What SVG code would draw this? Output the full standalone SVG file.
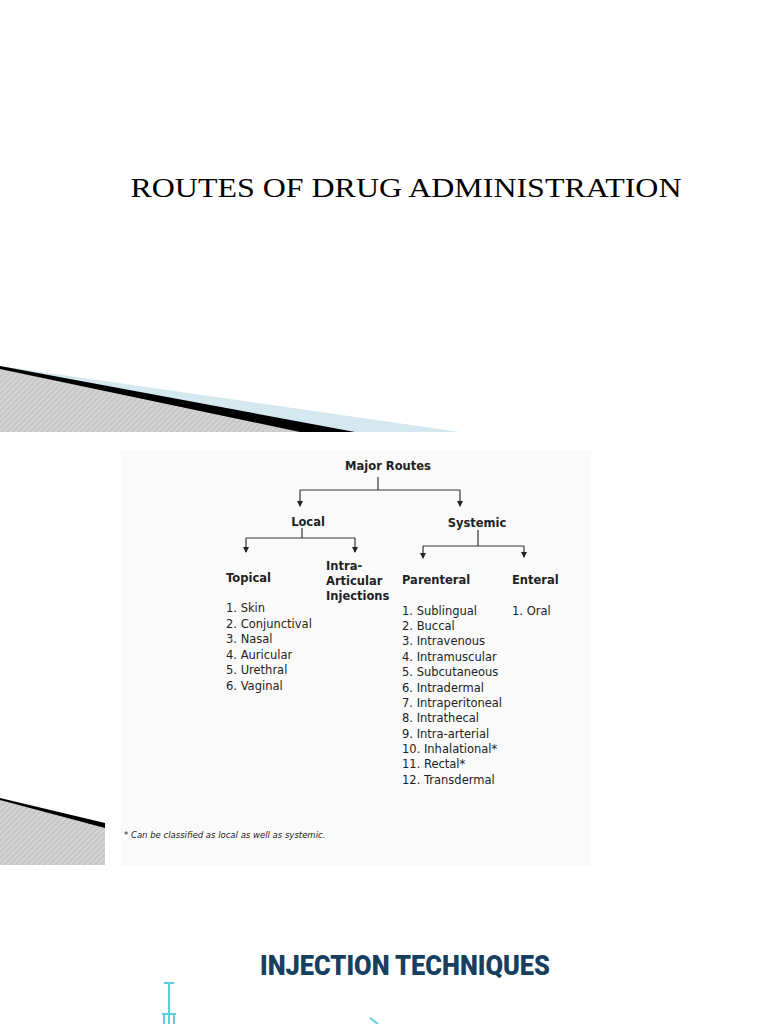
<svg xmlns="http://www.w3.org/2000/svg" width="768" height="1024" viewBox="0 0 768 1024">
<defs>
<pattern id="hatch" width="4" height="4" patternUnits="userSpaceOnUse" patternTransform="rotate(45)">
<rect width="4" height="4" fill="#c8c8c8"/><line x1="0" y1="0" x2="0" y2="4" stroke="#e4e4e4" stroke-width="1.5"/>
</pattern>
<marker id="ah" markerWidth="7" markerHeight="7" refX="5" refY="3" orient="auto" markerUnits="userSpaceOnUse"><path d="M0,0 L6,3 L0,6 Z" fill="#222"/></marker>
<style>
.t{font-family:"DejaVu Sans",sans-serif;font-size:11.5px;fill:#222}
.b{font-family:"DejaVu Sans",sans-serif;font-size:11.5px;font-weight:bold;fill:#222}
.ln{stroke:#333;stroke-width:1.2;fill:none}
</style>
</defs>
<rect width="768" height="1024" fill="#fff"/>
<text x="406" y="197" text-anchor="middle" font-family="Liberation Serif,serif" font-size="27" fill="#000" textLength="551" lengthAdjust="spacingAndGlyphs">ROUTES OF DRUG ADMINISTRATION</text>
<!-- top wedge -->
<polygon points="0,366 460,432 0,432" fill="#d5e8ef"/>
<polygon points="0,366 355,432 0,432" fill="#000"/>
<polygon points="0,369 300,432 0,432" fill="url(#hatch)"/>
<!-- bottom wedge -->
<polygon points="0,798 105,823 105,865 0,865" fill="#000"/>
<polygon points="0,800 105,828 105,865 0,865" fill="url(#hatch)"/>
<!-- panel -->
<rect x="121" y="450" width="470" height="416" fill="#fafafa"/>
<g id="connectors">
<path class="ln" d="M378,477 V490 M300,490 H460"/>
<path class="ln" d="M300,490 V506" marker-end="url(#ah)"/>
<path class="ln" d="M460,490 V506" marker-end="url(#ah)"/>
<path class="ln" d="M302,528 V538 M246,538 H355"/>
<path class="ln" d="M246,538 V552" marker-end="url(#ah)"/>
<path class="ln" d="M355,538 V552" marker-end="url(#ah)"/>
<path class="ln" d="M478,530 V546 M423,546 H524"/>
<path class="ln" d="M423,546 V558" marker-end="url(#ah)"/>
<path class="ln" d="M524,546 V557" marker-end="url(#ah)"/>
</g>
<g id="major"><text class="b" x="388" y="470" text-anchor="middle">Major Routes</text></g>
<g id="local"><text class="b" x="308" y="526" text-anchor="middle">Local</text></g>
<g id="systemic"><text class="b" x="477" y="527" text-anchor="middle">Systemic</text></g>
<g id="topical"><text class="b" x="226" y="582">Topical</text>
<text class="t" x="226" y="612">1. Skin</text><text class="t" x="226" y="628">2. Conjunctival</text><text class="t" x="226" y="643">3. Nasal</text><text class="t" x="226" y="659">4. Auricular</text><text class="t" x="226" y="674">5. Urethral</text><text class="t" x="226" y="690">6. Vaginal</text></g>
<g id="intra"><text class="b" x="326" y="570">Intra-</text><text class="b" x="326" y="585">Articular</text><text class="b" x="326" y="600">Injections</text></g>
<g id="parenteral"><text class="b" x="402" y="584">Parenteral</text>
<text class="t" x="402" y="615">1. Sublingual</text><text class="t" x="402" y="630">2. Buccal</text><text class="t" x="402" y="645">3. Intravenous</text><text class="t" x="402" y="661">4. Intramuscular</text><text class="t" x="402" y="676">5. Subcutaneous</text><text class="t" x="402" y="692">6. Intradermal</text><text class="t" x="402" y="707">7. Intraperitoneal</text><text class="t" x="402" y="722">8. Intrathecal</text><text class="t" x="402" y="738">9. Intra-arterial</text><text class="t" x="402" y="753">10. Inhalational*</text><text class="t" x="402" y="768">11. Rectal*</text><text class="t" x="402" y="784">12. Transdermal</text></g>
<g id="enteral"><text class="b" x="512" y="584">Enteral</text><text class="t" x="512" y="615">1. Oral</text></g>
<text x="124" y="838" font-family="DejaVu Sans,sans-serif" font-style="italic" font-size="8.5" fill="#222">* Can be classified as local as well as systemic.</text>
<text x="405" y="975" text-anchor="middle" font-family="Roboto,sans-serif" font-weight="900" font-size="27" fill="#173f5f" textLength="290" lengthAdjust="spacingAndGlyphs">INJECTION TECHNIQUES</text>
<g stroke="#5ecfdc" stroke-width="2" fill="none">
<path d="M164,983 H174 M169,983 V1024 M162,1014 H176 M164,1014 V1024 M174,1014 V1024"/>
<path d="M370,1018 L378,1024"/>
</g>
</svg>
